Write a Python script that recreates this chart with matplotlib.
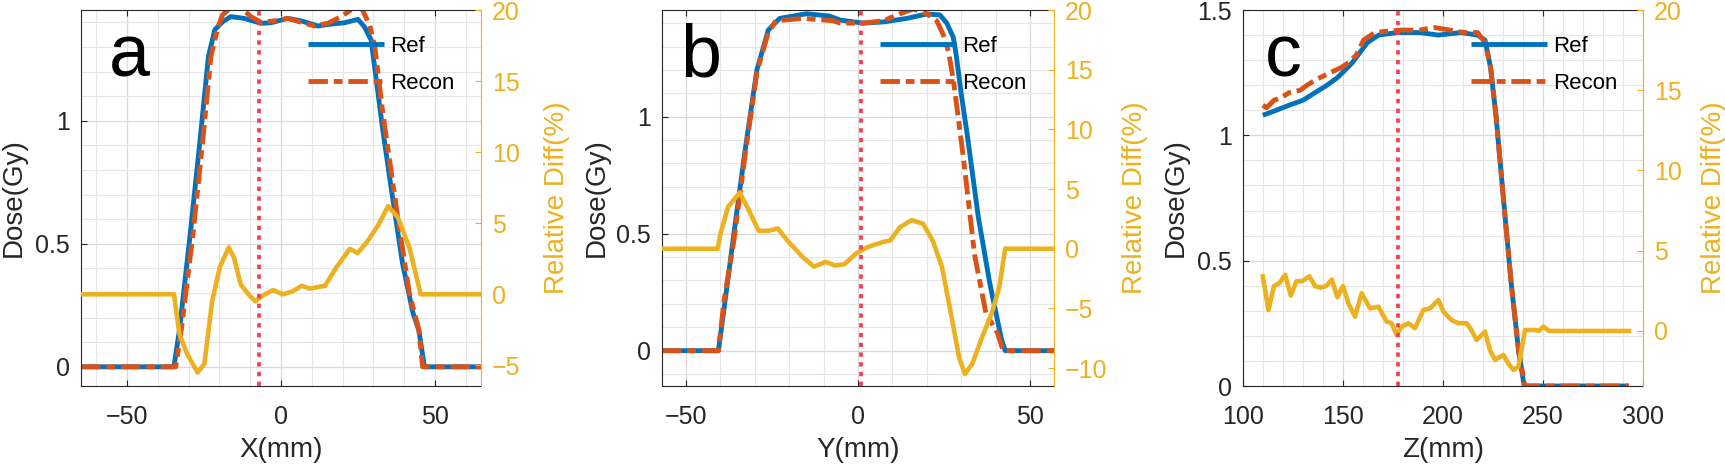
import matplotlib
matplotlib.use("Agg")
import matplotlib.pyplot as plt
from matplotlib.ticker import MultipleLocator, FuncFormatter

plt.rcParams["font.family"] = ["Liberation Sans", "DejaVu Sans"]

# ---- data ----
# panel a : profile along X
ref_a_x = [-65, -34.8, -33, -29.5, -26.4, -23.6, -21.5, -19, -16.3, -12, -6.5, -3.3, 2.2, 6.5,
           12, 16.3, 20.6, 25, 27.1, 29.3, 33, 36, 39.5, 42.9, 44.8, 46.6, 65]
ref_a_y = [0, 0, 0.15, 0.54, 0.91, 1.26, 1.37, 1.402, 1.423, 1.416, 1.396, 1.398, 1.416, 1.406,
           1.385, 1.393, 1.398, 1.412, 1.382, 1.328, 0.97, 0.71, 0.42, 0.218, 0.149, 0, 0]
recon_a_x = [-65, -34.2, -32.3, -28.6, -25.5, -22.8, -20.5, -19, -16.3, -13, -9.8, -6.5, -2.2, 2.2,
             6.5, 10.9, 15.2, 19.5, 23.9, 26.1, 28.8, 30.5, 33, 37.9, 41.7, 44.8, 46, 65]
recon_a_y = [0, 0, 0.16, 0.54, 0.91, 1.26, 1.38, 1.43, 1.46, 1.46, 1.423, 1.40, 1.406, 1.416,
             1.40, 1.385, 1.396, 1.423, 1.46, 1.46, 1.389, 1.30, 1.04, 0.61, 0.30, 0.15, 0, 0]
diff_a_x = [-65, -34.8, -33, -30.5, -27.1, -24.9, -22.4, -19.9, -17, -15.3, -13.1, -10.6, -8.3, -6.8,
            -4.4, -2.5, 0.6, 3.7, 6.8, 9.3, 14.3, 18, 22.4, 24.9, 28, 31.7, 34.8, 38, 41.7, 45.4, 65]
diff_a_y = [0, 0, -2.8, -4.2, -5.5, -4.9, -0.5, 1.9, 3.3, 2.6, 0.7, 0, -0.5, -0.2,
            0.1, 0.3, 0, 0.2, 0.6, 0.4, 0.6, 1.9, 3.2, 2.9, 3.7, 4.9, 6.2, 5.4, 3.3, 0, 0]

# panel b : profile along Y
ref_b_x = [-57, -40.6, -39.4, -36.1, -32.8, -29.4, -26.1, -22.8, -15, -8.3, -5.2, 1.5, 7.4, 14.2,
           20, 23.8, 25.8, 27.7, 28.5, 30, 31.7, 35, 38.3, 41.7, 42.8, 57]
ref_b_y = [0, 0, 0.13, 0.5, 0.86, 1.2, 1.37, 1.42, 1.44, 1.43, 1.413, 1.40, 1.405, 1.42,
           1.439, 1.435, 1.40, 1.34, 1.27, 1.10, 0.93, 0.57, 0.29, 0.05, 0, 0]
recon_b_x = [-57, -40.6, -38.9, -36.1, -32.8, -29.4, -26.1, -23.9, -16.1, -7.2, -5.2, 1.5, 7.4, 12.2,
             16.1, 20, 22.9, 24.8, 26.3, 27.8, 30.6, 33.9, 37.2, 40.6, 42.2, 57]
recon_b_y = [0, 0, 0.22, 0.47, 0.84, 1.19, 1.36, 1.41, 1.42, 1.41, 1.40, 1.40, 1.41, 1.44,
             1.46, 1.44, 1.41, 1.35, 1.28, 1.15, 0.83, 0.41, 0.16, 0.074, 0, 0]
diff_b_x = [-57, -40.8, -40, -37.8, -34.4, -31.7, -28.9, -26.1, -23.3, -20.6, -16.1, -12.8, -9.4, -6.7,
            -3.9, -0.6, 2.8, 7.2, 9.4, 12.2, 15.6, 18.9, 21.7, 24.4, 27.2, 29.4, 31.1, 33.3, 36.1,
            38.9, 41.1, 42.8, 57]
diff_b_y = [0, 0, 1.26, 3.5, 4.7, 3.2, 1.5, 1.5, 1.7, 0.7, -0.7, -1.5, -1.1, -1.4,
            -1.3, -0.4, 0.14, 0.56, 0.7, 1.8, 2.4, 2.1, 0.7, -1.5, -5.7, -9.1, -10.5, -9.6, -7.4,
            -5.4, -3.2, 0, 0]

# panel c : profile along Z (depth)
ref_c_x = [109.9, 115, 123, 130, 136, 142, 147.2, 151, 154.7, 158.4, 162.2, 167.8, 177.1, 188.3,
           197.7, 208.9, 217.3, 221, 223.8, 226.6, 230.3, 234.1, 237.8, 240.6, 293]
ref_c_y = [1.08, 1.095, 1.12, 1.14, 1.17, 1.20, 1.23, 1.26, 1.29, 1.33, 1.37, 1.40, 1.41, 1.41,
           1.40, 1.41, 1.40, 1.38, 1.27, 1.07, 0.74, 0.41, 0.14, 0, 0]
recon_c_x = [109.9, 111.8, 115.5, 119, 123, 128.6, 132, 136, 143.5, 149, 152.8, 156.6, 160.3, 165.9,
             171.5, 179, 188.3, 195.8, 203.3, 210.7, 217.3, 221, 223.8, 226.6, 230.3, 234.1,
             237.8, 241, 293]
recon_c_y = [1.12, 1.11, 1.14, 1.15, 1.17, 1.18, 1.20, 1.22, 1.25, 1.27, 1.29, 1.32, 1.38, 1.41,
             1.415, 1.42, 1.42, 1.43, 1.42, 1.41, 1.41, 1.37, 1.27, 1.07, 0.74, 0.41,
             0.14, 0, 0]
diff_c_x = [109.9, 112.7, 115.5, 118.3, 121.1, 123.9, 126.7, 129.5, 133.2, 136, 138.8, 141.6, 144.4,
            147.2, 150, 152.7, 156, 159.3, 163.5, 167.7, 171.8, 174.3, 176.8, 179.3, 182.7, 186,
            190.2, 193.5, 197.7, 200.2, 204.3, 207.7, 211.8, 214, 216.8, 221, 223.5, 226, 230.2,
            232.5, 235.2, 237.7, 241, 246, 248, 250.2, 253, 293]
diff_c_y = [3.4, 1.3, 2.8, 3.0, 3.5, 2.2, 3.1, 3.1, 3.4, 2.8, 2.7, 2.8, 3.2,
            2.1, 2.8, 1.72, 0.89, 2.35, 1.41, 1.51, 0.58, 0.48, -0.25, 0.27, 0.48, 0.17,
            1.31, 1.41, 1.93, 1.2, 0.68, 0.48, 0.48, 0.1, -0.56, -0.04, -1.2, -1.8, -1.49,
            -2.0, -2.43, -2.22, 0.06, 0.06, 0.0, 0.27, 0.0, 0.0]

# position of the red dotted marker line in each panel
marker_x = [-7.1, 0.8, 177.3]

panel_letters = ["a", "b", "c"]
x_labels = ["X(mm)", "Y(mm)", "Z(mm)"]

# colours (MATLAB defaults)
BLUE = "#0072BD"
ORANGE = "#D95319"
YELLOW = "#EDB120"
RED = "#F8394A"
AXC = "#262626"


def draw_panel(rect, xs, ys, marker, letter, xlabel, xlim, ylim, ylim_r,
               xticks, yticks, yticks_r, letter_x, leg_x, ylab_r_x):
    ax = fig.add_axes(rect)
    ax2 = ax.twinx()

    ax.plot(xs[0], ys[0], color=BLUE, lw=3.5, label="Ref", solid_capstyle="butt")
    ax.plot(xs[1], ys[1], color=ORANGE, lw=3.5, ls=(0, (4, 1.2, 1.8, 1.2)), label="Recon",
            dash_capstyle="butt")
    ax2.plot(xs[2], ys[2], color=YELLOW, lw=3.3)
    ax2.axvline(marker, color=RED, lw=2.6, ls=(0, (1.2, 1.5)))

    ax.set_xlim(xlim)
    ax.set_ylim(ylim)
    ax2.set_ylim(ylim_r)

    ax.set_xticks(xticks)
    ax.set_yticks(yticks)
    ax2.set_yticks(yticks_r)
    ax.xaxis.set_minor_locator(MultipleLocator(10))
    ax.yaxis.set_minor_locator(MultipleLocator(0.1))
    ax.yaxis.set_major_formatter(FuncFormatter(lambda v, p: "%g" % v))

    ax.grid(True, which="major", color="#d9d9d9", lw=0.9)
    ax.grid(True, which="minor", color="#e6e6e6", lw=0.8)
    ax.set_axisbelow(True)

    ax.tick_params(axis="both", which="major", direction="in", length=4, width=0.8,
                   labelsize=18, colors=AXC, top=True)
    ax.tick_params(axis="x", which="major", pad=14)
    ax.tick_params(axis="y", which="major", pad=8)
    ax.tick_params(which="minor", length=0)
    ax2.tick_params(axis="y", direction="in", length=4, width=0.8, labelsize=18,
                    colors=YELLOW, pad=8)

    for side in ["left", "bottom", "top"]:
        ax.spines[side].set_color(AXC)
        ax.spines[side].set_linewidth(0.8)
    ax.spines["right"].set_visible(False)
    for side in ["left", "bottom", "top"]:
        ax2.spines[side].set_visible(False)
    ax2.spines["right"].set_color(YELLOW)
    ax2.spines["right"].set_linewidth(0.8)

    ax.set_xlabel(xlabel, fontsize=20, color=AXC, va="center")
    ax.xaxis.set_label_coords(0.5, -0.17)
    ax.set_ylabel("Dose(Gy)", fontsize=20, color=AXC, va="center")
    ax.yaxis.set_label_coords(-0.1675, 0.5)
    ax2.set_ylabel("Relative Diff(%)", fontsize=20, color=YELLOW, va="center")
    ax2.yaxis.set_label_coords(ylab_r_x, 0.5)

    ax2.text(letter_x, 0.822, letter, transform=ax.transAxes, fontsize=53,
             ha="left", va="baseline", color="black")

    h, l = ax.get_legend_handles_labels()
    ax2.legend(h, l, loc="upper left", bbox_to_anchor=(leg_x, 0.932), frameon=False,
               fontsize=16, handlelength=3.4, handletextpad=0.3, labelspacing=0.75,
               borderpad=0, borderaxespad=0)
    return ax, ax2


fig = plt.figure(figsize=(17.25, 4.66), dpi=100)

draw_panel([81 / 1725, 1 - 386 / 466, 400 / 1725, 376 / 466],
           [ref_a_x, recon_a_x, diff_a_x], [ref_a_y, recon_a_y, diff_a_y],
           marker_x[0], panel_letters[0], x_labels[0],
           (-65, 65), (-0.078, 1.45), (-6.45, 20),
           [-50, 0, 50], [0, 0.5, 1], [-5, 0, 5, 10, 15, 20], 0.07, 0.5675, 1.19)

draw_panel([662 / 1725, 1 - 386 / 466, 392 / 1725, 376 / 466],
           [ref_b_x, recon_b_x, diff_b_x], [ref_b_y, recon_b_y, diff_b_y],
           marker_x[1], panel_letters[1], x_labels[1],
           (-57, 57), (-0.151, 1.456), (-11.5, 20),
           [-50, 0, 50], [0, 0.5, 1], [-10, -5, 0, 5, 10, 15, 20], 0.046, 0.556, 1.207)

draw_panel([1243 / 1725, 1 - 386 / 466, 400 / 1725, 376 / 466],
           [ref_c_x, recon_c_x, diff_c_x], [ref_c_y, recon_c_y, diff_c_y],
           marker_x[2], panel_letters[2], x_labels[2],
           (100, 300), (0, 1.5), (-3.43, 20),
           [100, 150, 200, 250, 300], [0, 0.5, 1, 1.5], [0, 5, 10, 15, 20], 0.054, 0.57, 1.178)

fig.savefig("out.png", dpi=100)
